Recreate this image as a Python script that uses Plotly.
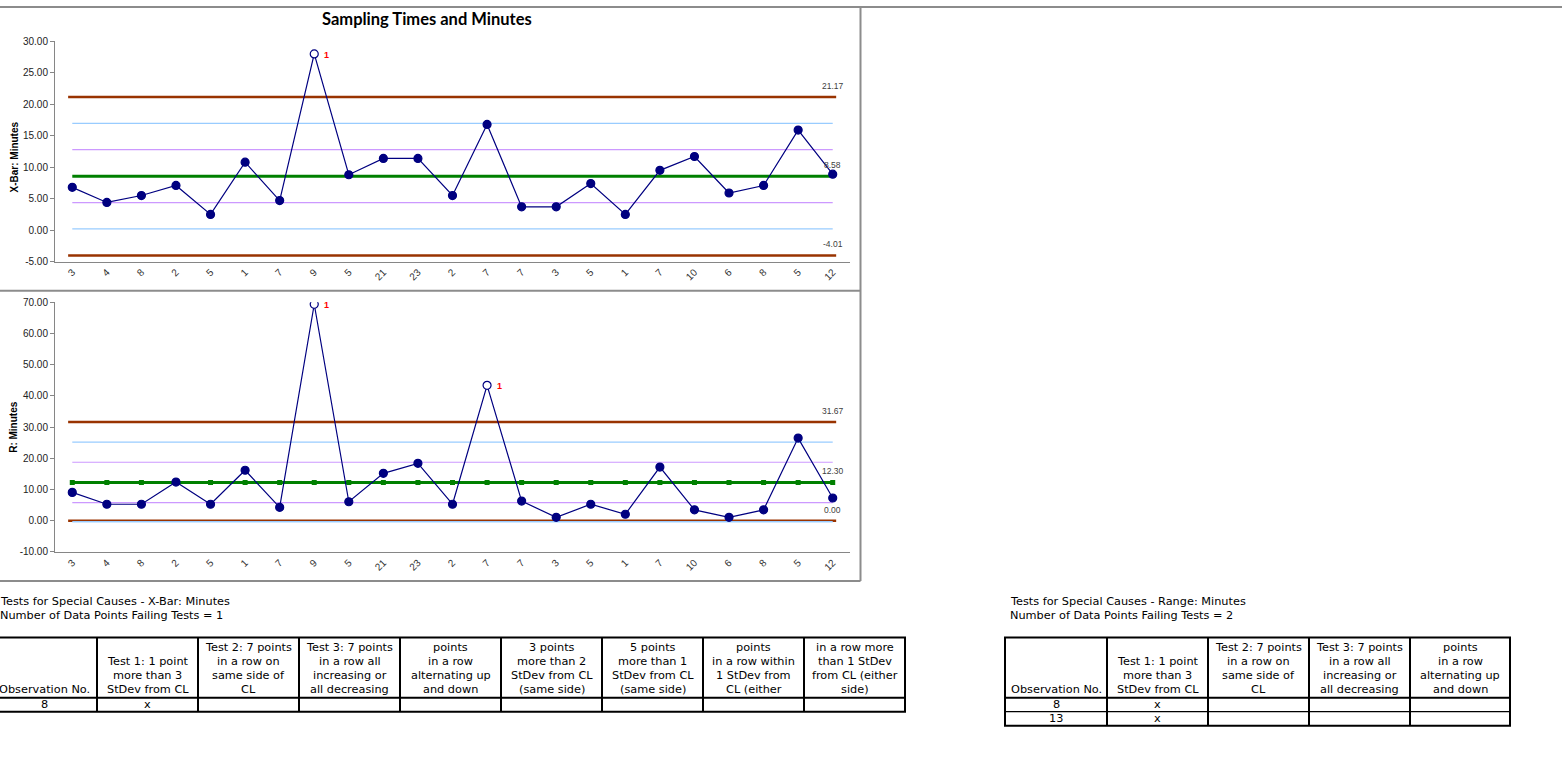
import plotly.graph_objects as go

W, H = 1562, 775

# ---------------- data ----------------
sample_labels = ["3", "4", "8", "2", "5", "1", "7", "9", "5", "21", "23", "2",
                 "7", "7", "3", "5", "1", "7", "10", "6", "8", "5", "12"]
xbar_values = [6.8, 4.4, 5.5, 7.1, 2.5, 10.8, 4.7, 28.0, 8.8, 11.4, 11.4, 5.5,
               16.8, 3.7, 3.7, 7.4, 2.5, 9.5, 11.7, 5.9, 7.1, 15.9, 8.9]
range_values = [9.1, 5.3, 5.3, 12.4, 5.3, 16.2, 4.3, 69.4, 6.1, 15.2, 18.4, 5.3,
                43.4, 6.3, 1.1, 5.3, 2.1, 17.2, 3.5, 1.1, 3.5, 26.5, 7.3]

xbar_ucl, xbar_cl, xbar_lcl = 21.17, 8.58, -4.01
xbar_zone2 = [16.97, 0.19]
xbar_zone1 = [12.78, 4.38]
xbar_fail_idx = [7]

r_ucl, r_cl, r_lcl = 31.67, 12.30, 0.00
r_zone2 = [25.21, -0.3]
r_zone1 = [18.76, 5.84]
r_fail_idx = [7, 12]

xbar_ticks = [-5, 0, 5, 10, 15, 20, 25, 30]
xbar_ticktext = ["-5.00", "0.00", "5.00", "10.00", "15.00", "20.00", "25.00", "30.00"]
r_ticks = [-10, 0, 10, 20, 30, 40, 50, 60, 70]
r_ticktext = ["-10.00", "0.00", "10.00", "20.00", "30.00", "40.00", "50.00", "60.00", "70.00"]

xbar_table_title = ["Tests for Special Causes - X-Bar: Minutes",
                    "Number of Data Points Failing Tests = 1"]
r_table_title = ["Tests for Special Causes - Range: Minutes",
                 "Number of Data Points Failing Tests = 2"]
header_cols = [
    ["", "", "", "Observation No."],
    ["", "Test 1: 1 point", "more than 3", "StDev from CL"],
    ["Test 2: 7 points", "in a row on", "same side of", "CL"],
    ["Test 3: 7 points", "in a row all", "increasing or", "all decreasing"],
    ["points", "in a row", "alternating up", "and down"],
    ["3 points", "more than 2", "StDev from CL", "(same side)"],
    ["5 points", "more than 1", "StDev from CL", "(same side)"],
    ["points", "in a row within", "1 StDev from", "CL (either"],
    ["in a row more", "than 1 StDev", "from CL (either", "side)"],
]
xbar_table_rows = [["8", "x", "", "", "", "", "", "", ""]]
r_table_rows = [["8", "x", "", "", ""], ["13", "x", "", "", ""]]

# ---------------- helpers ----------------
Y_OFF, Y_SCALE = 5.7, 0.9833   # vertical calibration of the photographed page


def px(x):
    return x / W


def py(y):
    yi = max((y - Y_OFF) / Y_SCALE, 1.0)
    return 1 - yi / H


NAVY = "#000080"
BROWN = "#993300"
GREEN = "#008000"
LBLUE = "#99CCFF"
PURPLE = "#CC99FF"
AXIS = "#868686"
AX_FONT = "Liberation Sans, Arial, sans-serif"

idx = list(range(len(sample_labels)))

fig = go.Figure()
shapes = []
annotations = []


def add_chart(values, ucl, cl, lcl, zone2, zone1, fail_idx, xa, ya, r_chart):
    xref, yref = xa, ya
    for v in zone2:
        shapes.append(dict(type="line", xref=xref, yref=yref, x0=0, x1=len(idx) - 1,
                           y0=v, y1=v, line=dict(color=LBLUE, width=1.2), layer="below"))
    for v in zone1:
        shapes.append(dict(type="line", xref=xref, yref=yref, x0=0, x1=len(idx) - 1,
                           y0=v, y1=v, line=dict(color=PURPLE, width=1.2), layer="below"))
    for v in (ucl, lcl):
        shapes.append(dict(type="line", xref=xref, yref=yref, x0=-0.12, x1=len(idx) - 1 + 0.1,
                           y0=v, y1=v, line=dict(color=BROWN, width=2.5), layer="below"))
    if r_chart:
        shapes.append(dict(type="line", xref=xref, yref=yref, x0=0, x1=len(idx) - 1,
                           y0=zone2[1], y1=zone2[1], line=dict(color=LBLUE, width=1.2), layer="below"))
    fig.add_trace(go.Scatter(
        x=idx, y=[cl] * len(idx), xaxis=xa, yaxis=ya, mode="lines+markers" if r_chart else "lines",
        line=dict(color=GREEN, width=3),
        marker=dict(symbol="square", size=5, color=GREEN),
        hoverinfo="skip", showlegend=False))
    colors = ["white" if i in fail_idx else NAVY for i in idx]
    fig.add_trace(go.Scatter(
        x=idx, y=values, xaxis=xa, yaxis=ya, mode="lines+markers",
        line=dict(color=NAVY, width=1.2),
        marker=dict(size=8, color=colors, line=dict(color=NAVY, width=1.2)),
        showlegend=False))
    for i in fail_idx:
        annotations.append(dict(xref=xa, yref=ya, x=i, y=values[i], text="<b>1</b>",
                                showarrow=False, xshift=12, yshift=-1,
                                font=dict(family=AX_FONT, size=9, color="#FF0000")))
    for v in (ucl, cl, lcl):
        annotations.append(dict(xref=xa, yref=ya, x=len(idx) - 1, y=v, text=f"{v:.2f}",
                                showarrow=False, yshift=11,
                                font=dict(family=AX_FONT, size=8.5, color="#404040")))


add_chart(xbar_values, xbar_ucl, xbar_cl, xbar_lcl, xbar_zone2, xbar_zone1,
          xbar_fail_idx, "x", "y", False)
add_chart(range_values, r_ucl, r_cl, r_lcl, r_zone2, r_zone1,
          r_fail_idx, "x2", "y2", True)

xdom = [px(55), px(850)]
common_x = dict(range=[-0.5, len(idx) - 0.5], tickvals=idx, ticktext=sample_labels,
                tickangle=-45, tickfont=dict(family=AX_FONT, size=10, color="#333333"),
                showline=True, linecolor=AXIS, linewidth=1, showgrid=False,
                zeroline=False, ticks="", fixedrange=True)
common_y = dict(tickfont=dict(family=AX_FONT, size=10, color="#222222"),
                showline=True, linecolor=AXIS, linewidth=1, showgrid=False,
                zeroline=False, ticks="outside", ticklen=4, tickcolor=AXIS)

fig.update_layout(
    xaxis=dict(domain=xdom, anchor="y", **common_x),
    yaxis=dict(domain=[py(261), py(41)], range=[-5, 30], tickvals=xbar_ticks,
               ticktext=xbar_ticktext, anchor="x", **common_y),
    xaxis2=dict(domain=xdom, anchor="y2", **common_x),
    yaxis2=dict(domain=[py(551), py(301.7)], range=[-10, 70], tickvals=r_ticks,
                ticktext=r_ticktext, anchor="x2", **common_y),
)

annotations.append(dict(xref="paper", yref="paper", x=px(427), y=py(19),
                        text="<b>Sampling Times and Minutes</b>", showarrow=False,
                        xanchor="center", yanchor="middle",
                        font=dict(family="Lato, Open Sans, sans-serif", size=16.5, color="#000000")))
annotations.append(dict(xref="paper", yref="paper", x=px(14), y=py(157),
                        text="<b>X-Bar: Minutes</b>", showarrow=False, textangle=-90,
                        xanchor="center", yanchor="middle",
                        font=dict(family=AX_FONT, size=10, color="#000000")))
annotations.append(dict(xref="paper", yref="paper", x=px(14), y=py(426),
                        text="<b>R: Minutes</b>", showarrow=False, textangle=-90,
                        xanchor="center", yanchor="middle",
                        font=dict(family=AX_FONT, size=10, color="#000000")))

frame = dict(color="#8C8C8C", width=2)
shapes.append(dict(type="line", xref="paper", yref="paper", x0=0, x1=1, y0=py(1), y1=py(1), line=frame))
shapes.append(dict(type="line", xref="paper", yref="paper", x0=px(860.5), x1=px(860.5), y0=py(0), y1=py(580), line=frame))
shapes.append(dict(type="line", xref="paper", yref="paper", x0=0, x1=px(860.5), y0=py(290), y1=py(290), line=frame))
shapes.append(dict(type="line", xref="paper", yref="paper", x0=0, x1=px(860.5), y0=py(580), y1=py(580), line=frame))

TFONT = dict(family="DejaVu Sans, sans-serif", size=11.3, color="#000000")


def add_table(title_lines, x_edges, headers, rows, tx):
    for k, t in enumerate(title_lines):
        annotations.append(dict(xref="paper", yref="paper", x=px(tx), y=py(600 + 14 * k),
                                text=t, showarrow=False, xanchor="left", yanchor="middle",
                                xshift=-2, font=TFONT))
    top, hdr_bot, row_h = 636.5, 696.5, 14
    bottom = hdr_bot + row_h * len(rows)
    left, right = x_edges[0], x_edges[-1]
    thick = dict(color="#000000", width=2)
    thin = dict(color="#000000", width=1.3)
    shapes.append(dict(type="rect", xref="paper", yref="paper", x0=px(left), x1=px(right),
                       y0=py(top), y1=py(bottom), line=thick))
    shapes.append(dict(type="line", xref="paper", yref="paper", x0=px(left), x1=px(right),
                       y0=py(hdr_bot), y1=py(hdr_bot), line=thick))
    for r in range(1, len(rows)):
        yy = hdr_bot + row_h * r
        shapes.append(dict(type="line", xref="paper", yref="paper", x0=px(left), x1=px(right),
                           y0=py(yy), y1=py(yy), line=thin))
    for xe in x_edges[1:-1]:
        shapes.append(dict(type="line", xref="paper", yref="paper", x0=px(xe), x1=px(xe),
                           y0=py(top), y1=py(bottom), line=thick))
    for c in range(len(x_edges) - 1):
        cx = (x_edges[c] + x_edges[c + 1]) / 2
        for li, txt in enumerate(headers[c]):
            if txt:
                annotations.append(dict(xref="paper", yref="paper", x=px(cx), y=py(646 + 14 * li),
                                        text=txt, showarrow=False, xanchor="center",
                                        yanchor="middle", font=TFONT))
        for r, row in enumerate(rows):
            if row[c]:
                annotations.append(dict(xref="paper", yref="paper", x=px(cx),
                                        y=py(hdr_bot + row_h * r + row_h / 2),
                                        text=row[c], showarrow=False, xanchor="center",
                                        yanchor="middle", font=TFONT))


add_table(xbar_table_title, [-8, 97, 198, 299, 400, 501, 602, 703, 804, 905],
          header_cols, xbar_table_rows, 0)
add_table(r_table_title, [1005, 1107, 1208, 1309, 1410, 1510],
          header_cols[:5], r_table_rows, 1010)

fig.update_layout(
    width=W, height=H, margin=dict(l=0, r=0, t=0, b=0),
    paper_bgcolor="white", plot_bgcolor="white",
    shapes=shapes, annotations=annotations, showlegend=False,
)

fig.write_html(
    "out.html",
    config={"displayModeBar": False},
    post_script=(
        "document.documentElement.style.margin='0px';"
        "document.documentElement.style.overflow='hidden';"
        "document.body.style.margin='0px';document.body.style.padding='0px';"
        "document.body.style.overflow='hidden';"
        "var gd=document.getElementById('{plot_id}');"
        "gd.style.position='fixed';gd.style.top='0px';gd.style.left='0px';"
    ),
)
